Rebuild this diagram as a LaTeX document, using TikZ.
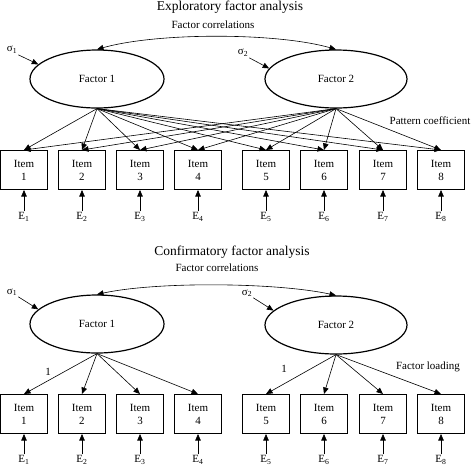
\documentclass[tikz,border=0pt]{standalone}
\usepackage{fontspec}
\setmainfont{Liberation Serif}
\usetikzlibrary{shapes.geometric,arrows.meta}

\begin{document}
\begin{tikzpicture}[x=1pt,y=-1pt,
	factor/.style={draw, ellipse, line width=1.2pt, minimum height=58pt, font=\fontsize{11}{13}\selectfont},
	itembox/.style={draw, line width=1pt, minimum width=47pt, minimum height=39pt, align=center, inner sep=1pt, font=\fontsize{11}{13}\selectfont},
	lbl/.style={font=\fontsize{11}{13}\selectfont, inner sep=1pt},
	ttl/.style={font=\fontsize{13.5}{15}\selectfont, inner sep=1pt},
	arr/.style={-{Triangle[length=6.5pt,width=5.5pt]}, line width=0.6pt},
	corr/.style={{Triangle[length=6.5pt,width=5.5pt]}-{Triangle[length=6.5pt,width=5.5pt]}, line width=0.6pt}]
	\useasboundingbox (0,0) rectangle (474,467);
	% exploratory
	\node[ttl] (efa) at (230,7) {Exploratory factor analysis};
	\node[lbl] (ecorr) at (213,25) {Factor correlations};
	\node[factor, minimum width=134pt] (ef1) at (97,79) {Factor 1};
	\node[factor, minimum width=142pt] (ef2) at (336,79) {Factor 2};
	\draw[corr] (ef1.north) .. controls +(60,-17) and +(-60,-17) .. (ef2.north);
	\node[lbl] (es1) at (12,50) {σ\textsubscript{1}};
	\node[lbl] (es2) at (243,53) {σ\textsubscript{2}};
	\draw[arr] (es1.south east) -- (ef1.166);
	\draw[arr] (es2.south east) -- (ef2.171);
	\node[lbl] (epat) at (430,121) {Pattern coefficient};
	\foreach \n/\x in {1/24,2/82,3/140,4/198,5/266,6/324,7/383,8/441} {
		\node[itembox] (ei\n) at (\x,170) {Item\\\n};
		\node[lbl] (ee\n) at (\x,217) {E\textsubscript{\n}};
		\draw[arr] (ee\n) -- (ei\n);
		\draw[arr] (ef1.south) -- (ei\n.north);
		\draw[arr] (ef2.south) -- (ei\n.north);
	}
	% confirmatory
	\node[ttl] (cfa) at (232,252) {Confirmatory factor analysis};
	\node[lbl] (ccorr) at (217,268) {Factor correlations};
	\node[factor, minimum width=134pt] (cf1) at (97,324) {Factor 1};
	\node[factor, minimum width=142pt] (cf2) at (336,325) {Factor 2};
	\draw[corr] (cf1.north) .. controls +(60,-13) and +(-60,-13) .. (cf2.north);
	\node[lbl] (cs1) at (12,292) {σ\textsubscript{1}};
	\node[lbl] (cs2) at (247,293) {σ\textsubscript{2}};
	\draw[arr] (cs1.south east) -- (cf1.166);
	\draw[arr] (cs2.south east) -- (cf2.167);
	\node[lbl] (cone1) at (48,372) {1};
	\node[lbl] (cone2) at (284,369) {1};
	\node[lbl] (cload) at (428,367) {Factor loading};
	\foreach \n/\x in {1/24,2/82,3/140,4/198,5/266,6/324,7/383,8/441} {
		\node[itembox] (ci\n) at (\x,414) {Item\\\n};
		\node[lbl] (ce\n) at (\x,460) {E\textsubscript{\n}};
		\draw[arr] (ce\n) -- (ci\n);
	}
	\foreach \n in {1,...,4} \draw[arr] (cf1.south) -- (ci\n.north);
	\foreach \n in {5,...,8} \draw[arr] (cf2.south) -- (ci\n.north);
\end{tikzpicture}
\end{document}
